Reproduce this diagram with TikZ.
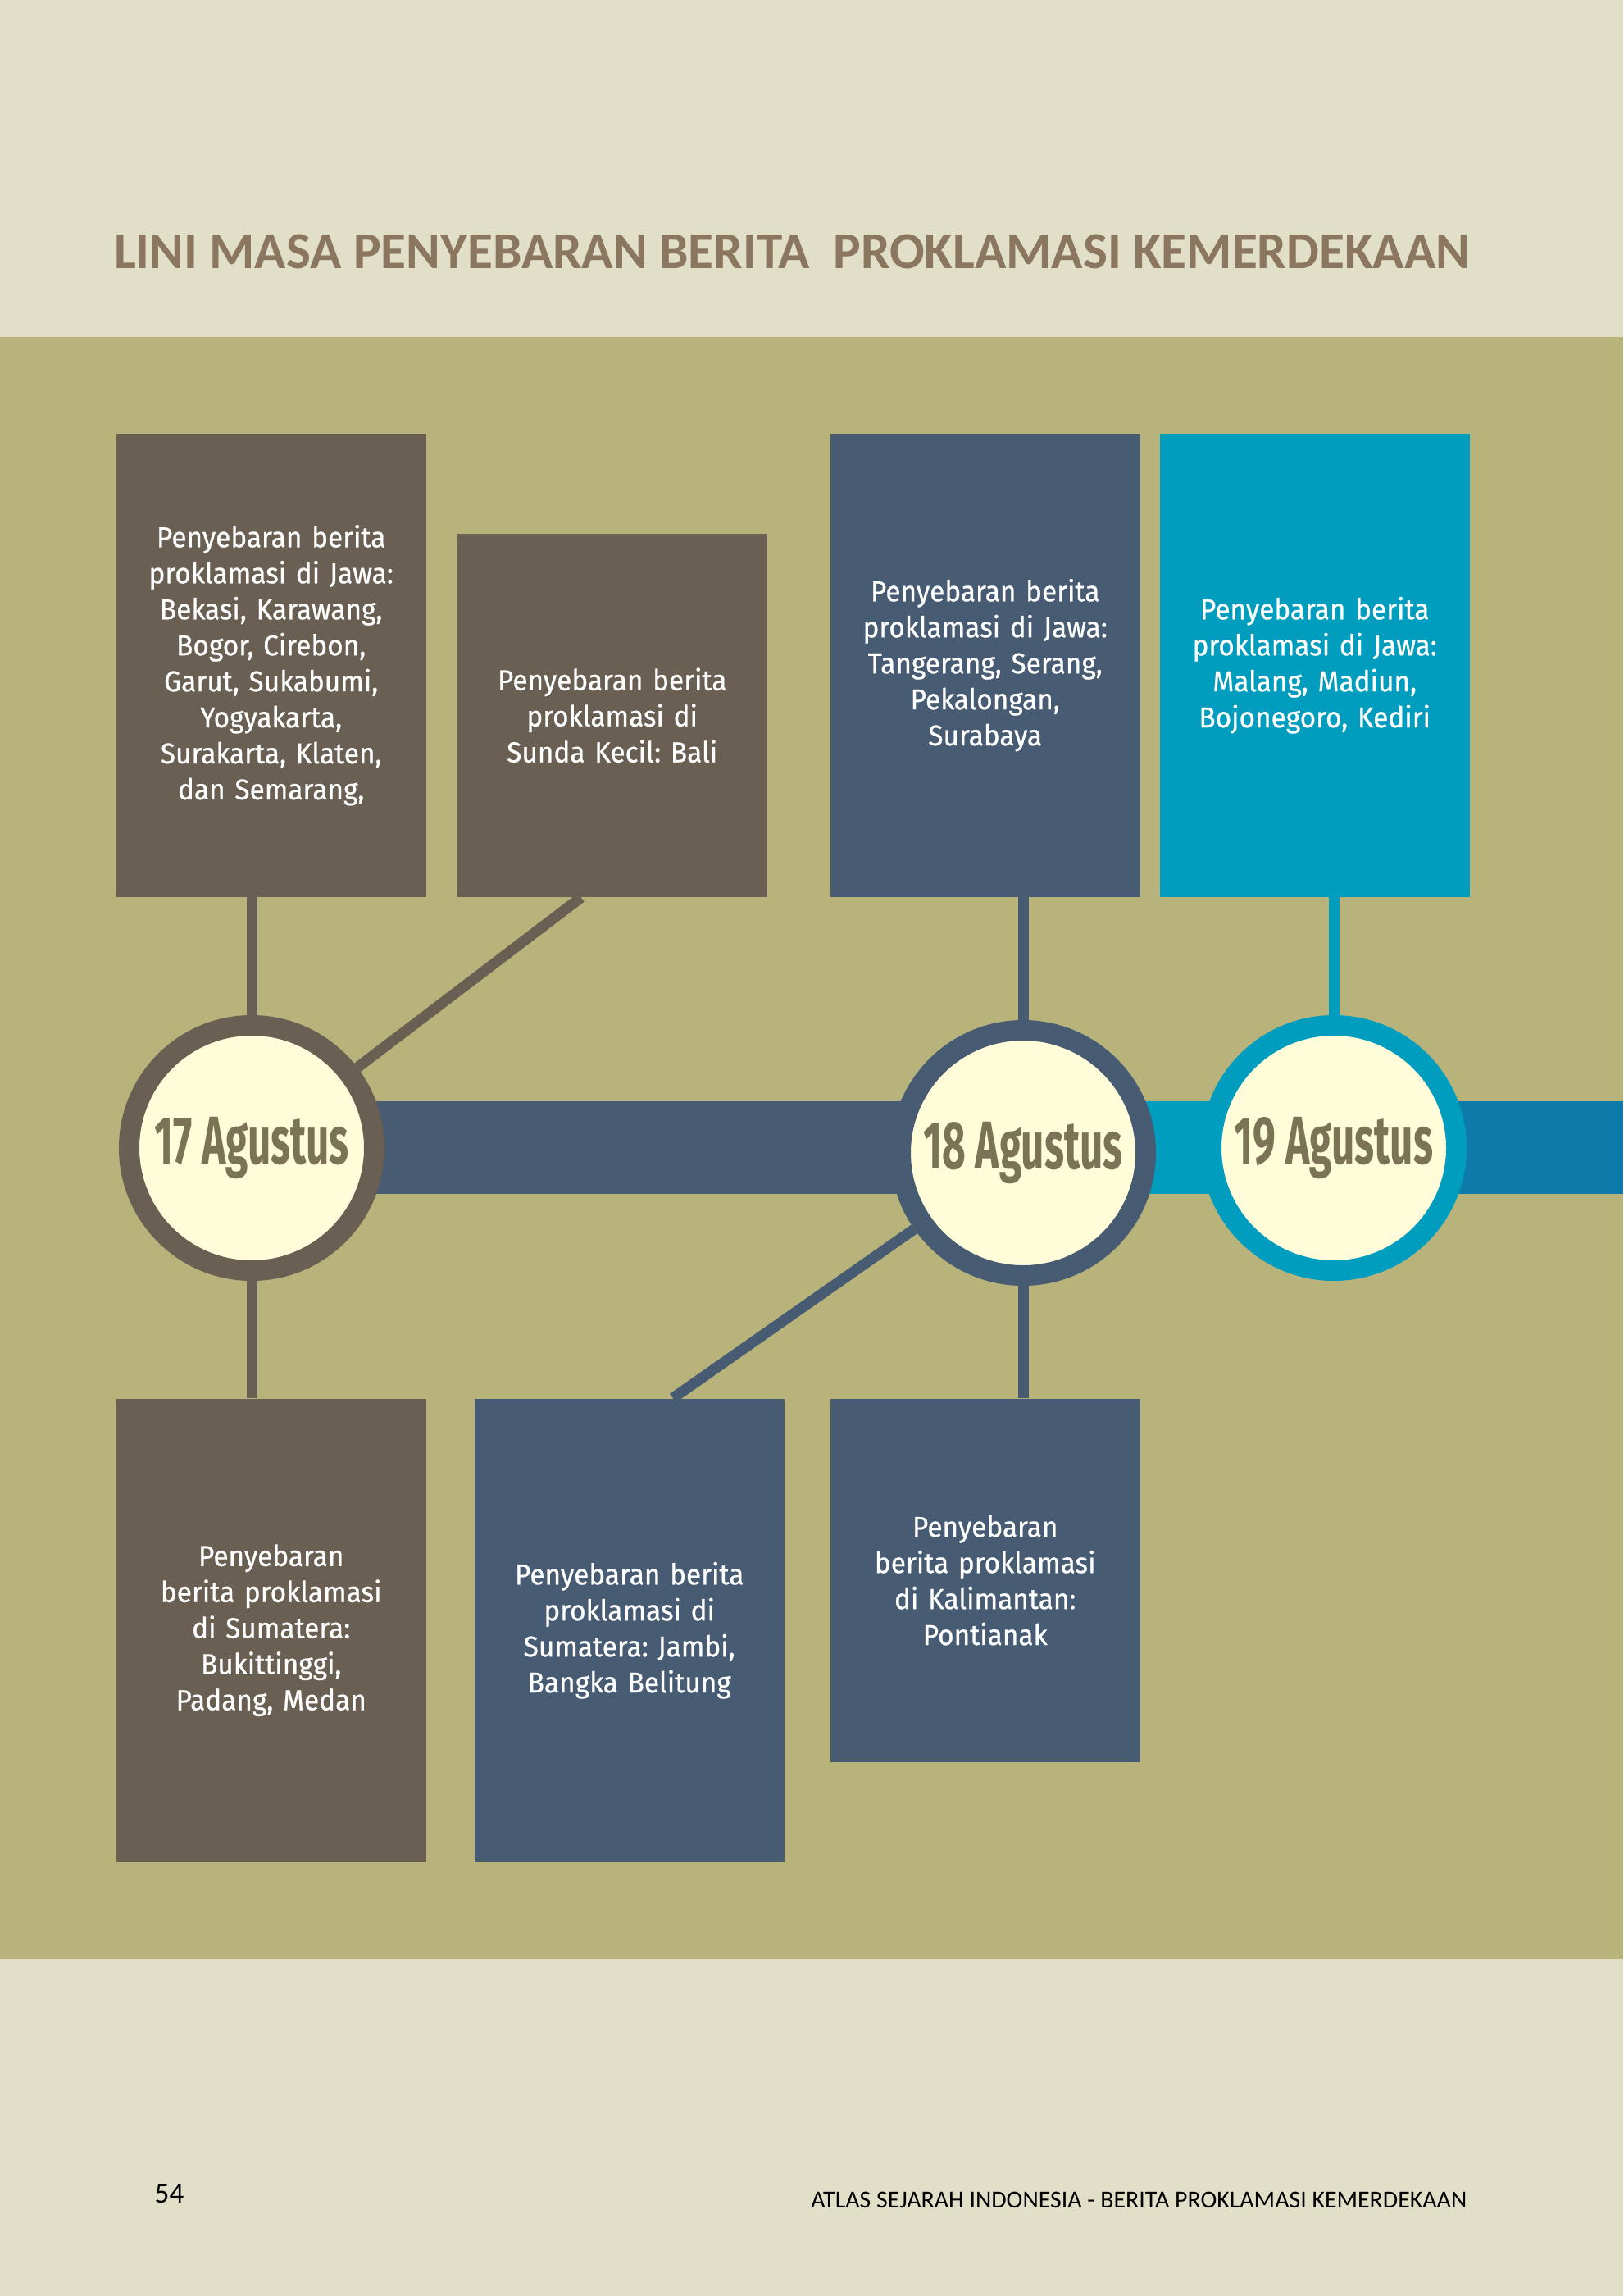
\documentclass[tikz,border=0pt]{standalone}
\usepackage{fontspec}
\setmainfont{Fira Sans}[FakeBold=0.6, FakeStretch=0.95]
\newfontfamily\titlefont{Carlito}
\newfontfamily\datefont[FakeStretch=0.6]{Fira Sans}
\frenchspacing
\usetikzlibrary{positioning, calc}
\definecolor{pageFill}{RGB}{225,223,200}
\definecolor{bandFill}{RGB}{184,178,123}
\definecolor{brownFill}{RGB}{106,95,83}
\definecolor{slateFill}{RGB}{71,91,115}
\definecolor{cyanFill}{RGB}{0,157,191}
\definecolor{barBlue}{RGB}{14,122,170}
\definecolor{dotFill}{RGB}{255,253,217}
\definecolor{dateInk}{RGB}{122,115,86}
\definecolor{titleInk}{RGB}{139,119,96}
\pgfdeclarelayer{back}
\pgfdeclarelayer{links}
\pgfsetlayers{back,links,main}
\tikzset{
  infobox/.style={
    anchor=north west,
    minimum width=37.8mm,
    minimum height=56.5mm,
    inner sep=0pt,
    text width=35mm,
    align=center,
    text=white,
    font=\fontsize{10}{12.5}\selectfont
  },
  shortbox/.style={infobox, minimum height=44.3mm},
  brownBox/.style={infobox, fill=brownFill},
  slateBox/.style={infobox, fill=slateFill},
  cyanBox/.style={infobox, fill=cyanFill},
  dateDot/.style={
    circle,
    minimum size=29.9mm,
    inner sep=0pt,
    line width=2.5mm,
    fill=dotFill,
    text=dateInk,
    font=\datefont\bfseries\fontsize{23.5}{24}\selectfont
  },
  link/.style={line width=1.3mm},
  titleText/.style={font=\titlefont\bfseries\fontsize{18}{20}\selectfont, text=titleInk, inner sep=0pt},
  footText/.style={font=\titlefont\fontsize{8.5}{10}\selectfont, text=black, inner sep=0pt}
}

\begin{document}
\begin{tikzpicture}
  \useasboundingbox (0,0) rectangle (19.8,-28);
  \begin{pgfonlayer}{back}
    \fill[pageFill] (0,0) rectangle (19.8,-28);
    \fill[bandFill] (0,-4.11) rectangle (19.8,-23.89);
  \end{pgfonlayer}

  \node[titleText] (title) at (9.66,-3.07) {LINI MASA PENYEBARAN BERITA\ \ PROKLAMASI KEMERDEKAAN};

  % top row
  \node[brownBox] (jawaA) at (1.41,-5.28) {Penyebaran berita\\proklamasi di Jawa:\\Bekasi, Karawang,\\Bogor, Cirebon,\\Garut, Sukabumi,\\Yogyakarta,\\Surakarta, Klaten,\\dan Semarang,};
  \node[brownBox, shortbox] (bali) at (5.57,-6.50) {Penyebaran berita\\proklamasi di\\Sunda Kecil: Bali};
  \node[slateBox] (jawaB) at (10.12,-5.28) {Penyebaran berita\\proklamasi di Jawa:\\Tangerang, Serang,\\Pekalongan,\\Surabaya};
  \node[cyanBox] (jawaC) at (14.14,-5.28) {Penyebaran berita\\proklamasi di Jawa:\\Malang, Madiun,\\Bojonegoro, Kediri};

  % dates
  \node[dateDot, draw=brownFill] (d17) at (3.07,-14.00) {17 Agustus};
  \node[dateDot, draw=slateFill] (d18) at (12.48,-14.06) {18 Agustus};
  \node[dateDot, draw=cyanFill] (d19) at (16.27,-14.00) {19 Agustus};

  % bottom row
  \node[brownBox] (sumA) at (1.41,-17.05) {Penyebaran\\berita proklamasi\\di Sumatera:\\Bukittinggi,\\Padang, Medan};
  \node[slateBox] (sumB) at (5.78,-17.05) {Penyebaran berita\\proklamasi di\\Sumatera: Jambi,\\Bangka Belitung};
  \node[slateBox, shortbox] (kal) at (10.12,-17.05) {Penyebaran\\berita proklamasi\\di Kalimantan:\\Pontianak};

  \node[footText, font=\titlefont\fontsize{10}{12}\selectfont, anchor=base west] (page) at (1.88,-26.86) {54};
  \node[footText, anchor=base east] (foot) at (17.90,-26.92) {ATLAS SEJARAH INDONESIA - BERITA PROKLAMASI KEMERDEKAAN};

  % timeline bar
  \coordinate (barTop) at (0,-13.43);
  \coordinate (barBot) at (0,-14.56);
  \coordinate (pageEdge) at (19.8,-14.56);
  \begin{pgfonlayer}{back}
    \fill[slateFill] (d17 |- barTop) rectangle (d18 |- barBot);
    \fill[cyanFill] (d18 |- barTop) rectangle (d19 |- barBot);
    \fill[barBlue] (d19 |- barTop) rectangle (pageEdge);
  \end{pgfonlayer}

  \begin{pgfonlayer}{links}
    \draw[link, brownFill] (d17) -- (d17 |- jawaA.south);
    \draw[link, brownFill] (d17) -- ($(bali.south west)!0.4!(bali.south east)$);
    \draw[link, brownFill] (d17) -- (d17 |- sumA.north);
    \draw[link, slateFill] (d18) -- (d18 |- jawaB.south);
    \draw[link, slateFill] (d18) -- ($(sumB.north west)!0.64!(sumB.north east)$);
    \draw[link, slateFill] (d18) -- (d18 |- kal.north);
    \draw[link, cyanFill] (d19) -- (d19 |- jawaC.south);
  \end{pgfonlayer}
\end{tikzpicture}
\end{document}
